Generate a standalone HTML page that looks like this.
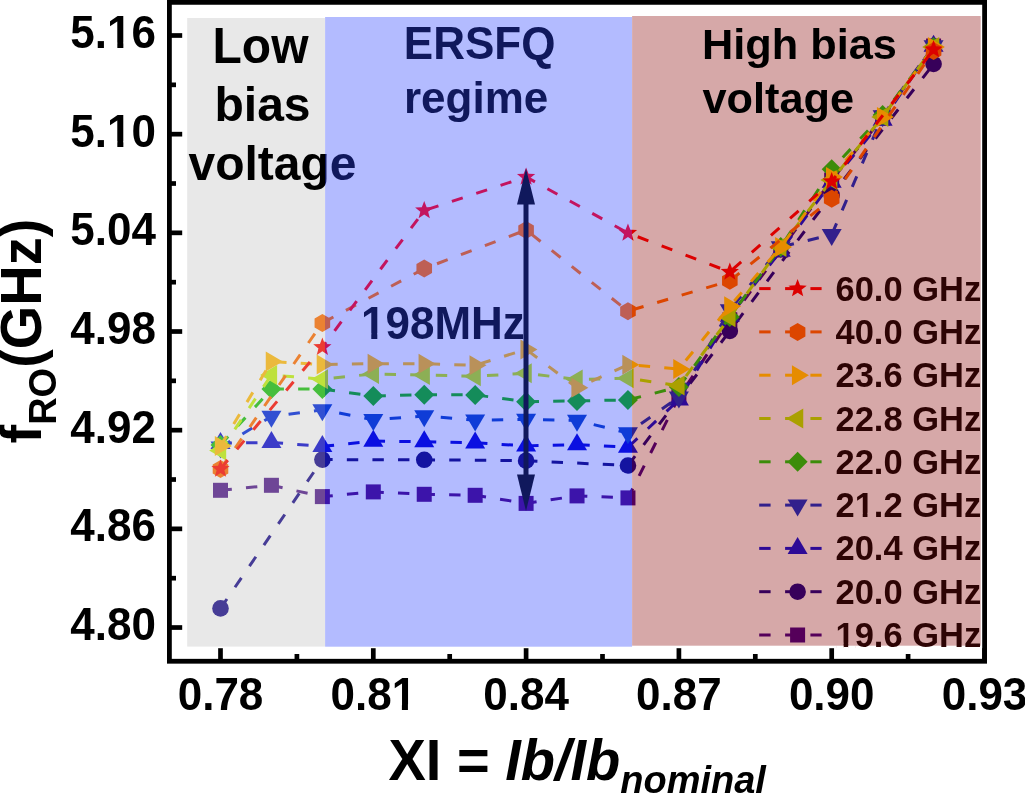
<!DOCTYPE html>
<html><head><meta charset="utf-8"><style>
html,body{margin:0;padding:0;background:#fff;overflow:hidden;}
svg{display:block;will-change:transform;}
text{font-family:"Liberation Sans",sans-serif;font-weight:bold;}
.tk{font-size:44px;}
.ttl{font-size:56px;}
.rl{font-size:44px;}
.rl2{font-size:48px;}
.lg{font-size:34.5px;}
</style></head><body>
<svg width="1025" height="796" viewBox="0 0 1025 796">
<defs><clipPath id="cg"><rect x="0" y="0" width="325.1" height="796"/></clipPath><clipPath id="cb"><rect x="325.1" y="0" width="307" height="796"/></clipPath><clipPath id="cp"><rect x="632.1" y="0" width="400" height="796"/></clipPath></defs>
<rect x="187.2" y="18" width="137.9" height="628.6" fill="#e8e8e8"/>
<rect x="325.1" y="17" width="307" height="629.7" fill="#b3bbff"/>
<rect x="632.1" y="16" width="348.6" height="629.7" fill="#d6a8a8"/>
<g clip-path="url(#cg)"><polyline points="220.50,490.30 271.43,485.30 322.37,496.60 373.30,491.90 424.23,494.30 475.16,495.30 526.10,503.40 577.03,495.90 627.96,497.90 678.90,397.00 729.83,320.00 780.76,250.00 831.70,180.00 882.63,118.00 933.56,46.00" fill="none" stroke="#6e4696" stroke-width="3" stroke-dasharray="11.4 14.2"/>
<rect x="213.00" y="482.80" width="15" height="15" fill="#6e4696"/>
<rect x="263.93" y="477.80" width="15" height="15" fill="#6e4696"/>
<rect x="314.87" y="489.10" width="15" height="15" fill="#6e4696"/>
<rect x="365.80" y="484.40" width="15" height="15" fill="#6e4696"/>
<rect x="416.73" y="486.80" width="15" height="15" fill="#6e4696"/>
<rect x="467.66" y="487.80" width="15" height="15" fill="#6e4696"/>
<rect x="518.60" y="495.90" width="15" height="15" fill="#6e4696"/>
<rect x="569.53" y="488.40" width="15" height="15" fill="#6e4696"/>
<rect x="620.46" y="490.40" width="15" height="15" fill="#6e4696"/>
<rect x="671.40" y="389.50" width="15" height="15" fill="#6e4696"/>
<rect x="722.33" y="312.50" width="15" height="15" fill="#6e4696"/>
<rect x="773.26" y="242.50" width="15" height="15" fill="#6e4696"/>
<rect x="824.20" y="172.50" width="15" height="15" fill="#6e4696"/>
<rect x="875.13" y="110.50" width="15" height="15" fill="#6e4696"/>
<rect x="926.06" y="38.50" width="15" height="15" fill="#6e4696"/>
<polyline points="220.50,608.40 322.37,459.60 424.23,459.80 526.10,460.70 627.96,465.50 729.83,331.00 831.70,195.00 933.56,64.00" fill="none" stroke="#463c96" stroke-width="3" stroke-dasharray="11.4 14.2"/>
<circle cx="220.50" cy="608.40" r="8.3" fill="#463c96"/>
<circle cx="322.37" cy="459.60" r="8.3" fill="#463c96"/>
<circle cx="424.23" cy="459.80" r="8.3" fill="#463c96"/>
<circle cx="526.10" cy="460.70" r="8.3" fill="#463c96"/>
<circle cx="627.96" cy="465.50" r="8.3" fill="#463c96"/>
<circle cx="729.83" cy="331.00" r="8.3" fill="#463c96"/>
<circle cx="831.70" cy="195.00" r="8.3" fill="#463c96"/>
<circle cx="933.56" cy="64.00" r="8.3" fill="#463c96"/>
<polyline points="220.50,443.30 271.43,442.40 322.37,446.40 373.30,441.10 424.23,441.70 475.16,442.80 526.10,445.90 577.03,444.70 627.96,447.20 678.90,399.80 729.83,316.00 780.76,251.00 831.70,182.00 882.63,120.00 933.56,46.00" fill="none" stroke="#3c3cc8" stroke-width="3" stroke-dasharray="11.4 14.2"/>
<polygon points="220.50,431.97 230.50,448.97 210.50,448.97" fill="#3c3cc8"/>
<polygon points="271.43,431.07 281.43,448.07 261.43,448.07" fill="#3c3cc8"/>
<polygon points="322.37,435.07 332.37,452.07 312.37,452.07" fill="#3c3cc8"/>
<polygon points="373.30,429.77 383.30,446.77 363.30,446.77" fill="#3c3cc8"/>
<polygon points="424.23,430.37 434.23,447.37 414.23,447.37" fill="#3c3cc8"/>
<polygon points="475.16,431.47 485.16,448.47 465.16,448.47" fill="#3c3cc8"/>
<polygon points="526.10,434.57 536.10,451.57 516.10,451.57" fill="#3c3cc8"/>
<polygon points="577.03,433.37 587.03,450.37 567.03,450.37" fill="#3c3cc8"/>
<polygon points="627.96,435.87 637.96,452.87 617.96,452.87" fill="#3c3cc8"/>
<polygon points="678.90,388.47 688.90,405.47 668.90,405.47" fill="#3c3cc8"/>
<polygon points="729.83,304.67 739.83,321.67 719.83,321.67" fill="#3c3cc8"/>
<polygon points="780.76,239.67 790.76,256.67 770.76,256.67" fill="#3c3cc8"/>
<polygon points="831.70,170.67 841.70,187.67 821.70,187.67" fill="#3c3cc8"/>
<polygon points="882.63,108.67 892.63,125.67 872.63,125.67" fill="#3c3cc8"/>
<polygon points="933.56,34.67 943.56,51.67 923.56,51.67" fill="#3c3cc8"/>
<polyline points="220.50,447.20 271.43,416.40 322.37,409.80 373.30,419.70 424.23,416.00 475.16,420.20 526.10,419.50 577.03,420.50 627.96,433.00 678.90,397.10 729.83,310.00 780.76,247.00 831.70,234.70 882.63,116.00 933.56,46.00" fill="none" stroke="#3250d2" stroke-width="3" stroke-dasharray="11.4 14.2"/>
<polygon points="210.50,441.53 230.50,441.53 220.50,458.53" fill="#3250d2"/>
<polygon points="261.43,410.73 281.43,410.73 271.43,427.73" fill="#3250d2"/>
<polygon points="312.37,404.13 332.37,404.13 322.37,421.13" fill="#3250d2"/>
<polygon points="363.30,414.03 383.30,414.03 373.30,431.03" fill="#3250d2"/>
<polygon points="414.23,410.33 434.23,410.33 424.23,427.33" fill="#3250d2"/>
<polygon points="465.16,414.53 485.16,414.53 475.16,431.53" fill="#3250d2"/>
<polygon points="516.10,413.83 536.10,413.83 526.10,430.83" fill="#3250d2"/>
<polygon points="567.03,414.83 587.03,414.83 577.03,431.83" fill="#3250d2"/>
<polygon points="617.96,427.33 637.96,427.33 627.96,444.33" fill="#3250d2"/>
<polygon points="668.90,391.43 688.90,391.43 678.90,408.43" fill="#3250d2"/>
<polygon points="719.83,304.33 739.83,304.33 729.83,321.33" fill="#3250d2"/>
<polygon points="770.76,241.33 790.76,241.33 780.76,258.33" fill="#3250d2"/>
<polygon points="821.70,229.03 841.70,229.03 831.70,246.03" fill="#3250d2"/>
<polygon points="872.63,110.33 892.63,110.33 882.63,127.33" fill="#3250d2"/>
<polygon points="923.56,40.33 943.56,40.33 933.56,57.33" fill="#3250d2"/>
<polyline points="220.50,445.00 271.43,389.00 322.37,389.00 373.30,396.00 424.23,394.70 475.16,394.90 526.10,401.70 577.03,400.90 627.96,399.90 678.90,387.00 729.83,317.00 780.76,247.00 831.70,169.20 882.63,115.00 933.56,47.00" fill="none" stroke="#46be3c" stroke-width="3" stroke-dasharray="11.4 14.2"/>
<polygon points="220.50,435.00 230.50,445.00 220.50,455.00 210.50,445.00" fill="#46be3c"/>
<polygon points="271.43,379.00 281.43,389.00 271.43,399.00 261.43,389.00" fill="#46be3c"/>
<polygon points="322.37,379.00 332.37,389.00 322.37,399.00 312.37,389.00" fill="#46be3c"/>
<polygon points="373.30,386.00 383.30,396.00 373.30,406.00 363.30,396.00" fill="#46be3c"/>
<polygon points="424.23,384.70 434.23,394.70 424.23,404.70 414.23,394.70" fill="#46be3c"/>
<polygon points="475.16,384.90 485.16,394.90 475.16,404.90 465.16,394.90" fill="#46be3c"/>
<polygon points="526.10,391.70 536.10,401.70 526.10,411.70 516.10,401.70" fill="#46be3c"/>
<polygon points="577.03,390.90 587.03,400.90 577.03,410.90 567.03,400.90" fill="#46be3c"/>
<polygon points="627.96,389.90 637.96,399.90 627.96,409.90 617.96,399.90" fill="#46be3c"/>
<polygon points="678.90,377.00 688.90,387.00 678.90,397.00 668.90,387.00" fill="#46be3c"/>
<polygon points="729.83,307.00 739.83,317.00 729.83,327.00 719.83,317.00" fill="#46be3c"/>
<polygon points="780.76,237.00 790.76,247.00 780.76,257.00 770.76,247.00" fill="#46be3c"/>
<polygon points="831.70,159.20 841.70,169.20 831.70,179.20 821.70,169.20" fill="#46be3c"/>
<polygon points="882.63,105.00 892.63,115.00 882.63,125.00 872.63,115.00" fill="#46be3c"/>
<polygon points="933.56,37.00 943.56,47.00 933.56,57.00 923.56,47.00" fill="#46be3c"/>
<polyline points="220.50,450.60 271.43,375.00 322.37,379.20 373.30,373.90 424.23,375.00 475.16,376.20 526.10,373.30 577.03,379.50 627.96,378.30 678.90,385.60 729.83,317.20 780.76,247.00 831.70,180.00 882.63,117.00 933.56,47.00" fill="none" stroke="#bee13c" stroke-width="3" stroke-dasharray="11.4 14.2"/>
<polygon points="226.17,440.60 209.17,450.60 226.17,460.60" fill="#bee13c"/>
<polygon points="277.10,365.00 260.10,375.00 277.10,385.00" fill="#bee13c"/>
<polygon points="328.03,369.20 311.03,379.20 328.03,389.20" fill="#bee13c"/>
<polygon points="378.97,363.90 361.97,373.90 378.97,383.90" fill="#bee13c"/>
<polygon points="429.90,365.00 412.90,375.00 429.90,385.00" fill="#bee13c"/>
<polygon points="480.83,366.20 463.83,376.20 480.83,386.20" fill="#bee13c"/>
<polygon points="531.76,363.30 514.76,373.30 531.76,383.30" fill="#bee13c"/>
<polygon points="582.70,369.50 565.70,379.50 582.70,389.50" fill="#bee13c"/>
<polygon points="633.63,368.30 616.63,378.30 633.63,388.30" fill="#bee13c"/>
<polygon points="684.56,375.60 667.56,385.60 684.56,395.60" fill="#bee13c"/>
<polygon points="735.50,307.20 718.50,317.20 735.50,327.20" fill="#bee13c"/>
<polygon points="786.43,237.00 769.43,247.00 786.43,257.00" fill="#bee13c"/>
<polygon points="837.36,170.00 820.36,180.00 837.36,190.00" fill="#bee13c"/>
<polygon points="888.30,107.00 871.30,117.00 888.30,127.00" fill="#bee13c"/>
<polygon points="939.23,37.00 922.23,47.00 939.23,57.00" fill="#bee13c"/>
<polyline points="220.50,446.00 271.43,361.50 322.37,364.50 373.30,363.70 424.23,363.70 475.16,365.30 526.10,349.40 577.03,387.80 627.96,364.70 678.90,369.00 729.83,306.20 780.76,247.00 831.70,177.00 882.63,117.00 933.56,47.00" fill="none" stroke="#ebb93c" stroke-width="3" stroke-dasharray="11.4 14.2"/>
<polygon points="214.83,436.00 231.83,446.00 214.83,456.00" fill="#ebb93c"/>
<polygon points="265.77,351.50 282.77,361.50 265.77,371.50" fill="#ebb93c"/>
<polygon points="316.70,354.50 333.70,364.50 316.70,374.50" fill="#ebb93c"/>
<polygon points="367.63,353.70 384.63,363.70 367.63,373.70" fill="#ebb93c"/>
<polygon points="418.57,353.70 435.57,363.70 418.57,373.70" fill="#ebb93c"/>
<polygon points="469.50,355.30 486.50,365.30 469.50,375.30" fill="#ebb93c"/>
<polygon points="520.43,339.40 537.43,349.40 520.43,359.40" fill="#ebb93c"/>
<polygon points="571.36,377.80 588.36,387.80 571.36,397.80" fill="#ebb93c"/>
<polygon points="622.30,354.70 639.30,364.70 622.30,374.70" fill="#ebb93c"/>
<polygon points="673.23,359.00 690.23,369.00 673.23,379.00" fill="#ebb93c"/>
<polygon points="724.16,296.20 741.16,306.20 724.16,316.20" fill="#ebb93c"/>
<polygon points="775.10,237.00 792.10,247.00 775.10,257.00" fill="#ebb93c"/>
<polygon points="826.03,167.00 843.03,177.00 826.03,187.00" fill="#ebb93c"/>
<polygon points="876.96,107.00 893.96,117.00 876.96,127.00" fill="#ebb93c"/>
<polygon points="927.90,37.00 944.90,47.00 927.90,57.00" fill="#ebb93c"/>
<polyline points="220.50,469.00 322.37,322.90 424.23,268.60 526.10,230.00 627.96,311.20 729.83,280.80 831.70,198.70 933.56,51.00" fill="none" stroke="#eb8232" stroke-width="3" stroke-dasharray="11.4 14.2"/>
<polygon points="220.50,460.00 228.29,464.50 228.29,473.50 220.50,478.00 212.71,473.50 212.71,464.50" fill="#eb8232"/>
<polygon points="322.37,313.90 330.16,318.40 330.16,327.40 322.37,331.90 314.57,327.40 314.57,318.40" fill="#eb8232"/>
<polygon points="424.23,259.60 432.03,264.10 432.03,273.10 424.23,277.60 416.44,273.10 416.44,264.10" fill="#eb8232"/>
<polygon points="526.10,221.00 533.89,225.50 533.89,234.50 526.10,239.00 518.30,234.50 518.30,225.50" fill="#eb8232"/>
<polygon points="627.96,302.20 635.76,306.70 635.76,315.70 627.96,320.20 620.17,315.70 620.17,306.70" fill="#eb8232"/>
<polygon points="729.83,271.80 737.62,276.30 737.62,285.30 729.83,289.80 722.04,285.30 722.04,276.30" fill="#eb8232"/>
<polygon points="831.70,189.70 839.49,194.20 839.49,203.20 831.70,207.70 823.90,203.20 823.90,194.20" fill="#eb8232"/>
<polygon points="933.56,42.00 941.36,46.50 941.36,55.50 933.56,60.00 925.77,55.50 925.77,46.50" fill="#eb8232"/>
<polyline points="220.50,469.00 322.37,347.20 424.23,210.50 526.10,177.00 627.96,233.00 729.83,272.00 831.70,181.50 933.56,49.60" fill="none" stroke="#eb3c32" stroke-width="3" stroke-dasharray="11.4 14.2"/>
<polygon points="220.50,459.40 222.91,465.68 229.63,466.03 224.40,470.27 226.14,476.77 220.50,473.10 214.86,476.77 216.60,470.27 211.37,466.03 218.09,465.68" fill="#eb3c32"/>
<polygon points="322.37,337.60 324.78,343.88 331.50,344.23 326.27,348.47 328.01,354.97 322.37,351.30 316.72,354.97 318.47,348.47 313.24,344.23 319.96,343.88" fill="#eb3c32"/>
<polygon points="424.23,200.90 426.64,207.18 433.36,207.53 428.13,211.77 429.87,218.27 424.23,214.60 418.59,218.27 420.33,211.77 415.10,207.53 421.82,207.18" fill="#eb3c32"/>
<polygon points="526.10,167.40 528.51,173.68 535.23,174.03 530.00,178.27 531.74,184.77 526.10,181.10 520.46,184.77 522.20,178.27 516.97,174.03 523.69,173.68" fill="#eb3c32"/>
<polygon points="627.96,223.40 630.37,229.68 637.09,230.03 631.86,234.27 633.61,240.77 627.96,237.10 622.32,240.77 624.06,234.27 618.83,230.03 625.55,229.68" fill="#eb3c32"/>
<polygon points="729.83,262.40 732.24,268.68 738.96,269.03 733.73,273.27 735.47,279.77 729.83,276.10 724.19,279.77 725.93,273.27 720.70,269.03 727.42,268.68" fill="#eb3c32"/>
<polygon points="831.70,171.90 834.11,178.18 840.83,178.53 835.60,182.77 837.34,189.27 831.70,185.60 826.05,189.27 827.80,182.77 822.57,178.53 829.29,178.18" fill="#eb3c32"/>
<polygon points="933.56,40.00 935.97,46.28 942.69,46.63 937.46,50.87 939.20,57.37 933.56,53.70 927.92,57.37 929.66,50.87 924.43,46.63 931.15,46.28" fill="#eb3c32"/></g>
<g clip-path="url(#cb)"><polyline points="220.50,490.30 271.43,485.30 322.37,496.60 373.30,491.90 424.23,494.30 475.16,495.30 526.10,503.40 577.03,495.90 627.96,497.90 678.90,397.00 729.83,320.00 780.76,250.00 831.70,180.00 882.63,118.00 933.56,46.00" fill="none" stroke="#3c14aa" stroke-width="3" stroke-dasharray="11.4 14.2"/>
<rect x="213.00" y="482.80" width="15" height="15" fill="#3c14aa"/>
<rect x="263.93" y="477.80" width="15" height="15" fill="#3c14aa"/>
<rect x="314.87" y="489.10" width="15" height="15" fill="#3c14aa"/>
<rect x="365.80" y="484.40" width="15" height="15" fill="#3c14aa"/>
<rect x="416.73" y="486.80" width="15" height="15" fill="#3c14aa"/>
<rect x="467.66" y="487.80" width="15" height="15" fill="#3c14aa"/>
<rect x="518.60" y="495.90" width="15" height="15" fill="#3c14aa"/>
<rect x="569.53" y="488.40" width="15" height="15" fill="#3c14aa"/>
<rect x="620.46" y="490.40" width="15" height="15" fill="#3c14aa"/>
<rect x="671.40" y="389.50" width="15" height="15" fill="#3c14aa"/>
<rect x="722.33" y="312.50" width="15" height="15" fill="#3c14aa"/>
<rect x="773.26" y="242.50" width="15" height="15" fill="#3c14aa"/>
<rect x="824.20" y="172.50" width="15" height="15" fill="#3c14aa"/>
<rect x="875.13" y="110.50" width="15" height="15" fill="#3c14aa"/>
<rect x="926.06" y="38.50" width="15" height="15" fill="#3c14aa"/>
<polyline points="220.50,608.40 322.37,459.60 424.23,459.80 526.10,460.70 627.96,465.50 729.83,331.00 831.70,195.00 933.56,64.00" fill="none" stroke="#1414a0" stroke-width="3" stroke-dasharray="11.4 14.2"/>
<circle cx="220.50" cy="608.40" r="8.3" fill="#1414a0"/>
<circle cx="322.37" cy="459.60" r="8.3" fill="#1414a0"/>
<circle cx="424.23" cy="459.80" r="8.3" fill="#1414a0"/>
<circle cx="526.10" cy="460.70" r="8.3" fill="#1414a0"/>
<circle cx="627.96" cy="465.50" r="8.3" fill="#1414a0"/>
<circle cx="729.83" cy="331.00" r="8.3" fill="#1414a0"/>
<circle cx="831.70" cy="195.00" r="8.3" fill="#1414a0"/>
<circle cx="933.56" cy="64.00" r="8.3" fill="#1414a0"/>
<polyline points="220.50,443.30 271.43,442.40 322.37,446.40 373.30,441.10 424.23,441.70 475.16,442.80 526.10,445.90 577.03,444.70 627.96,447.20 678.90,399.80 729.83,316.00 780.76,251.00 831.70,182.00 882.63,120.00 933.56,46.00" fill="none" stroke="#0a0fe1" stroke-width="3" stroke-dasharray="11.4 14.2"/>
<polygon points="220.50,431.97 230.50,448.97 210.50,448.97" fill="#0a0fe1"/>
<polygon points="271.43,431.07 281.43,448.07 261.43,448.07" fill="#0a0fe1"/>
<polygon points="322.37,435.07 332.37,452.07 312.37,452.07" fill="#0a0fe1"/>
<polygon points="373.30,429.77 383.30,446.77 363.30,446.77" fill="#0a0fe1"/>
<polygon points="424.23,430.37 434.23,447.37 414.23,447.37" fill="#0a0fe1"/>
<polygon points="475.16,431.47 485.16,448.47 465.16,448.47" fill="#0a0fe1"/>
<polygon points="526.10,434.57 536.10,451.57 516.10,451.57" fill="#0a0fe1"/>
<polygon points="577.03,433.37 587.03,450.37 567.03,450.37" fill="#0a0fe1"/>
<polygon points="627.96,435.87 637.96,452.87 617.96,452.87" fill="#0a0fe1"/>
<polygon points="678.90,388.47 688.90,405.47 668.90,405.47" fill="#0a0fe1"/>
<polygon points="729.83,304.67 739.83,321.67 719.83,321.67" fill="#0a0fe1"/>
<polygon points="780.76,239.67 790.76,256.67 770.76,256.67" fill="#0a0fe1"/>
<polygon points="831.70,170.67 841.70,187.67 821.70,187.67" fill="#0a0fe1"/>
<polygon points="882.63,108.67 892.63,125.67 872.63,125.67" fill="#0a0fe1"/>
<polygon points="933.56,34.67 943.56,51.67 923.56,51.67" fill="#0a0fe1"/>
<polyline points="220.50,447.20 271.43,416.40 322.37,409.80 373.30,419.70 424.23,416.00 475.16,420.20 526.10,419.50 577.03,420.50 627.96,433.00 678.90,397.10 729.83,310.00 780.76,247.00 831.70,234.70 882.63,116.00 933.56,46.00" fill="none" stroke="#0f3cd7" stroke-width="3" stroke-dasharray="11.4 14.2"/>
<polygon points="210.50,441.53 230.50,441.53 220.50,458.53" fill="#0f3cd7"/>
<polygon points="261.43,410.73 281.43,410.73 271.43,427.73" fill="#0f3cd7"/>
<polygon points="312.37,404.13 332.37,404.13 322.37,421.13" fill="#0f3cd7"/>
<polygon points="363.30,414.03 383.30,414.03 373.30,431.03" fill="#0f3cd7"/>
<polygon points="414.23,410.33 434.23,410.33 424.23,427.33" fill="#0f3cd7"/>
<polygon points="465.16,414.53 485.16,414.53 475.16,431.53" fill="#0f3cd7"/>
<polygon points="516.10,413.83 536.10,413.83 526.10,430.83" fill="#0f3cd7"/>
<polygon points="567.03,414.83 587.03,414.83 577.03,431.83" fill="#0f3cd7"/>
<polygon points="617.96,427.33 637.96,427.33 627.96,444.33" fill="#0f3cd7"/>
<polygon points="668.90,391.43 688.90,391.43 678.90,408.43" fill="#0f3cd7"/>
<polygon points="719.83,304.33 739.83,304.33 729.83,321.33" fill="#0f3cd7"/>
<polygon points="770.76,241.33 790.76,241.33 780.76,258.33" fill="#0f3cd7"/>
<polygon points="821.70,229.03 841.70,229.03 831.70,246.03" fill="#0f3cd7"/>
<polygon points="872.63,110.33 892.63,110.33 882.63,127.33" fill="#0f3cd7"/>
<polygon points="923.56,40.33 943.56,40.33 933.56,57.33" fill="#0f3cd7"/>
<polyline points="220.50,445.00 271.43,389.00 322.37,389.00 373.30,396.00 424.23,394.70 475.16,394.90 526.10,401.70 577.03,400.90 627.96,399.90 678.90,387.00 729.83,317.00 780.76,247.00 831.70,169.20 882.63,115.00 933.56,47.00" fill="none" stroke="#148c5a" stroke-width="3" stroke-dasharray="11.4 14.2"/>
<polygon points="220.50,435.00 230.50,445.00 220.50,455.00 210.50,445.00" fill="#148c5a"/>
<polygon points="271.43,379.00 281.43,389.00 271.43,399.00 261.43,389.00" fill="#148c5a"/>
<polygon points="322.37,379.00 332.37,389.00 322.37,399.00 312.37,389.00" fill="#148c5a"/>
<polygon points="373.30,386.00 383.30,396.00 373.30,406.00 363.30,396.00" fill="#148c5a"/>
<polygon points="424.23,384.70 434.23,394.70 424.23,404.70 414.23,394.70" fill="#148c5a"/>
<polygon points="475.16,384.90 485.16,394.90 475.16,404.90 465.16,394.90" fill="#148c5a"/>
<polygon points="526.10,391.70 536.10,401.70 526.10,411.70 516.10,401.70" fill="#148c5a"/>
<polygon points="577.03,390.90 587.03,400.90 577.03,410.90 567.03,400.90" fill="#148c5a"/>
<polygon points="627.96,389.90 637.96,399.90 627.96,409.90 617.96,399.90" fill="#148c5a"/>
<polygon points="678.90,377.00 688.90,387.00 678.90,397.00 668.90,387.00" fill="#148c5a"/>
<polygon points="729.83,307.00 739.83,317.00 729.83,327.00 719.83,317.00" fill="#148c5a"/>
<polygon points="780.76,237.00 790.76,247.00 780.76,257.00 770.76,247.00" fill="#148c5a"/>
<polygon points="831.70,159.20 841.70,169.20 831.70,179.20 821.70,169.20" fill="#148c5a"/>
<polygon points="882.63,105.00 892.63,115.00 882.63,125.00 872.63,115.00" fill="#148c5a"/>
<polygon points="933.56,37.00 943.56,47.00 933.56,57.00 923.56,47.00" fill="#148c5a"/>
<polyline points="220.50,450.60 271.43,375.00 322.37,379.20 373.30,373.90 424.23,375.00 475.16,376.20 526.10,373.30 577.03,379.50 627.96,378.30 678.90,385.60 729.83,317.20 780.76,247.00 831.70,180.00 882.63,117.00 933.56,47.00" fill="none" stroke="#8caf55" stroke-width="3" stroke-dasharray="11.4 14.2"/>
<polygon points="226.17,440.60 209.17,450.60 226.17,460.60" fill="#8caf55"/>
<polygon points="277.10,365.00 260.10,375.00 277.10,385.00" fill="#8caf55"/>
<polygon points="328.03,369.20 311.03,379.20 328.03,389.20" fill="#8caf55"/>
<polygon points="378.97,363.90 361.97,373.90 378.97,383.90" fill="#8caf55"/>
<polygon points="429.90,365.00 412.90,375.00 429.90,385.00" fill="#8caf55"/>
<polygon points="480.83,366.20 463.83,376.20 480.83,386.20" fill="#8caf55"/>
<polygon points="531.76,363.30 514.76,373.30 531.76,383.30" fill="#8caf55"/>
<polygon points="582.70,369.50 565.70,379.50 582.70,389.50" fill="#8caf55"/>
<polygon points="633.63,368.30 616.63,378.30 633.63,388.30" fill="#8caf55"/>
<polygon points="684.56,375.60 667.56,385.60 684.56,395.60" fill="#8caf55"/>
<polygon points="735.50,307.20 718.50,317.20 735.50,327.20" fill="#8caf55"/>
<polygon points="786.43,237.00 769.43,247.00 786.43,257.00" fill="#8caf55"/>
<polygon points="837.36,170.00 820.36,180.00 837.36,190.00" fill="#8caf55"/>
<polygon points="888.30,107.00 871.30,117.00 888.30,127.00" fill="#8caf55"/>
<polygon points="939.23,37.00 922.23,47.00 939.23,57.00" fill="#8caf55"/>
<polyline points="220.50,446.00 271.43,361.50 322.37,364.50 373.30,363.70 424.23,363.70 475.16,365.30 526.10,349.40 577.03,387.80 627.96,364.70 678.90,369.00 729.83,306.20 780.76,247.00 831.70,177.00 882.63,117.00 933.56,47.00" fill="none" stroke="#b9915a" stroke-width="3" stroke-dasharray="11.4 14.2"/>
<polygon points="214.83,436.00 231.83,446.00 214.83,456.00" fill="#b9915a"/>
<polygon points="265.77,351.50 282.77,361.50 265.77,371.50" fill="#b9915a"/>
<polygon points="316.70,354.50 333.70,364.50 316.70,374.50" fill="#b9915a"/>
<polygon points="367.63,353.70 384.63,363.70 367.63,373.70" fill="#b9915a"/>
<polygon points="418.57,353.70 435.57,363.70 418.57,373.70" fill="#b9915a"/>
<polygon points="469.50,355.30 486.50,365.30 469.50,375.30" fill="#b9915a"/>
<polygon points="520.43,339.40 537.43,349.40 520.43,359.40" fill="#b9915a"/>
<polygon points="571.36,377.80 588.36,387.80 571.36,397.80" fill="#b9915a"/>
<polygon points="622.30,354.70 639.30,364.70 622.30,374.70" fill="#b9915a"/>
<polygon points="673.23,359.00 690.23,369.00 673.23,379.00" fill="#b9915a"/>
<polygon points="724.16,296.20 741.16,306.20 724.16,316.20" fill="#b9915a"/>
<polygon points="775.10,237.00 792.10,247.00 775.10,257.00" fill="#b9915a"/>
<polygon points="826.03,167.00 843.03,177.00 826.03,187.00" fill="#b9915a"/>
<polygon points="876.96,107.00 893.96,117.00 876.96,127.00" fill="#b9915a"/>
<polygon points="927.90,37.00 944.90,47.00 927.90,57.00" fill="#b9915a"/>
<polyline points="220.50,469.00 322.37,322.90 424.23,268.60 526.10,230.00 627.96,311.20 729.83,280.80 831.70,198.70 933.56,51.00" fill="none" stroke="#be5f55" stroke-width="3" stroke-dasharray="11.4 14.2"/>
<polygon points="220.50,460.00 228.29,464.50 228.29,473.50 220.50,478.00 212.71,473.50 212.71,464.50" fill="#be5f55"/>
<polygon points="322.37,313.90 330.16,318.40 330.16,327.40 322.37,331.90 314.57,327.40 314.57,318.40" fill="#be5f55"/>
<polygon points="424.23,259.60 432.03,264.10 432.03,273.10 424.23,277.60 416.44,273.10 416.44,264.10" fill="#be5f55"/>
<polygon points="526.10,221.00 533.89,225.50 533.89,234.50 526.10,239.00 518.30,234.50 518.30,225.50" fill="#be5f55"/>
<polygon points="627.96,302.20 635.76,306.70 635.76,315.70 627.96,320.20 620.17,315.70 620.17,306.70" fill="#be5f55"/>
<polygon points="729.83,271.80 737.62,276.30 737.62,285.30 729.83,289.80 722.04,285.30 722.04,276.30" fill="#be5f55"/>
<polygon points="831.70,189.70 839.49,194.20 839.49,203.20 831.70,207.70 823.90,203.20 823.90,194.20" fill="#be5f55"/>
<polygon points="933.56,42.00 941.36,46.50 941.36,55.50 933.56,60.00 925.77,55.50 925.77,46.50" fill="#be5f55"/>
<polyline points="220.50,469.00 322.37,347.20 424.23,210.50 526.10,177.00 627.96,233.00 729.83,272.00 831.70,181.50 933.56,49.60" fill="none" stroke="#c3145f" stroke-width="3" stroke-dasharray="11.4 14.2"/>
<polygon points="220.50,459.40 222.91,465.68 229.63,466.03 224.40,470.27 226.14,476.77 220.50,473.10 214.86,476.77 216.60,470.27 211.37,466.03 218.09,465.68" fill="#c3145f"/>
<polygon points="322.37,337.60 324.78,343.88 331.50,344.23 326.27,348.47 328.01,354.97 322.37,351.30 316.72,354.97 318.47,348.47 313.24,344.23 319.96,343.88" fill="#c3145f"/>
<polygon points="424.23,200.90 426.64,207.18 433.36,207.53 428.13,211.77 429.87,218.27 424.23,214.60 418.59,218.27 420.33,211.77 415.10,207.53 421.82,207.18" fill="#c3145f"/>
<polygon points="526.10,167.40 528.51,173.68 535.23,174.03 530.00,178.27 531.74,184.77 526.10,181.10 520.46,184.77 522.20,178.27 516.97,174.03 523.69,173.68" fill="#c3145f"/>
<polygon points="627.96,223.40 630.37,229.68 637.09,230.03 631.86,234.27 633.61,240.77 627.96,237.10 622.32,240.77 624.06,234.27 618.83,230.03 625.55,229.68" fill="#c3145f"/>
<polygon points="729.83,262.40 732.24,268.68 738.96,269.03 733.73,273.27 735.47,279.77 729.83,276.10 724.19,279.77 725.93,273.27 720.70,269.03 727.42,268.68" fill="#c3145f"/>
<polygon points="831.70,171.90 834.11,178.18 840.83,178.53 835.60,182.77 837.34,189.27 831.70,185.60 826.05,189.27 827.80,182.77 822.57,178.53 829.29,178.18" fill="#c3145f"/>
<polygon points="933.56,40.00 935.97,46.28 942.69,46.63 937.46,50.87 939.20,57.37 933.56,53.70 927.92,57.37 929.66,50.87 924.43,46.63 931.15,46.28" fill="#c3145f"/></g>
<g clip-path="url(#cp)"><polyline points="220.50,490.30 271.43,485.30 322.37,496.60 373.30,491.90 424.23,494.30 475.16,495.30 526.10,503.40 577.03,495.90 627.96,497.90 678.90,397.00 729.83,320.00 780.76,250.00 831.70,180.00 882.63,118.00 933.56,46.00" fill="none" stroke="#55005a" stroke-width="3" stroke-dasharray="11.4 14.2"/>
<rect x="213.00" y="482.80" width="15" height="15" fill="#55005a"/>
<rect x="263.93" y="477.80" width="15" height="15" fill="#55005a"/>
<rect x="314.87" y="489.10" width="15" height="15" fill="#55005a"/>
<rect x="365.80" y="484.40" width="15" height="15" fill="#55005a"/>
<rect x="416.73" y="486.80" width="15" height="15" fill="#55005a"/>
<rect x="467.66" y="487.80" width="15" height="15" fill="#55005a"/>
<rect x="518.60" y="495.90" width="15" height="15" fill="#55005a"/>
<rect x="569.53" y="488.40" width="15" height="15" fill="#55005a"/>
<rect x="620.46" y="490.40" width="15" height="15" fill="#55005a"/>
<rect x="671.40" y="389.50" width="15" height="15" fill="#55005a"/>
<rect x="722.33" y="312.50" width="15" height="15" fill="#55005a"/>
<rect x="773.26" y="242.50" width="15" height="15" fill="#55005a"/>
<rect x="824.20" y="172.50" width="15" height="15" fill="#55005a"/>
<rect x="875.13" y="110.50" width="15" height="15" fill="#55005a"/>
<rect x="926.06" y="38.50" width="15" height="15" fill="#55005a"/>
<polyline points="220.50,608.40 322.37,459.60 424.23,459.80 526.10,460.70 627.96,465.50 729.83,331.00 831.70,195.00 933.56,64.00" fill="none" stroke="#37005a" stroke-width="3" stroke-dasharray="11.4 14.2"/>
<circle cx="220.50" cy="608.40" r="8.3" fill="#37005a"/>
<circle cx="322.37" cy="459.60" r="8.3" fill="#37005a"/>
<circle cx="424.23" cy="459.80" r="8.3" fill="#37005a"/>
<circle cx="526.10" cy="460.70" r="8.3" fill="#37005a"/>
<circle cx="627.96" cy="465.50" r="8.3" fill="#37005a"/>
<circle cx="729.83" cy="331.00" r="8.3" fill="#37005a"/>
<circle cx="831.70" cy="195.00" r="8.3" fill="#37005a"/>
<circle cx="933.56" cy="64.00" r="8.3" fill="#37005a"/>
<polyline points="220.50,443.30 271.43,442.40 322.37,446.40 373.30,441.10 424.23,441.70 475.16,442.80 526.10,445.90 577.03,444.70 627.96,447.20 678.90,399.80 729.83,316.00 780.76,251.00 831.70,182.00 882.63,120.00 933.56,46.00" fill="none" stroke="#2d0a96" stroke-width="3" stroke-dasharray="11.4 14.2"/>
<polygon points="220.50,431.97 230.50,448.97 210.50,448.97" fill="#2d0a96"/>
<polygon points="271.43,431.07 281.43,448.07 261.43,448.07" fill="#2d0a96"/>
<polygon points="322.37,435.07 332.37,452.07 312.37,452.07" fill="#2d0a96"/>
<polygon points="373.30,429.77 383.30,446.77 363.30,446.77" fill="#2d0a96"/>
<polygon points="424.23,430.37 434.23,447.37 414.23,447.37" fill="#2d0a96"/>
<polygon points="475.16,431.47 485.16,448.47 465.16,448.47" fill="#2d0a96"/>
<polygon points="526.10,434.57 536.10,451.57 516.10,451.57" fill="#2d0a96"/>
<polygon points="577.03,433.37 587.03,450.37 567.03,450.37" fill="#2d0a96"/>
<polygon points="627.96,435.87 637.96,452.87 617.96,452.87" fill="#2d0a96"/>
<polygon points="678.90,388.47 688.90,405.47 668.90,405.47" fill="#2d0a96"/>
<polygon points="729.83,304.67 739.83,321.67 719.83,321.67" fill="#2d0a96"/>
<polygon points="780.76,239.67 790.76,256.67 770.76,256.67" fill="#2d0a96"/>
<polygon points="831.70,170.67 841.70,187.67 821.70,187.67" fill="#2d0a96"/>
<polygon points="882.63,108.67 892.63,125.67 872.63,125.67" fill="#2d0a96"/>
<polygon points="933.56,34.67 943.56,51.67 923.56,51.67" fill="#2d0a96"/>
<polyline points="220.50,447.20 271.43,416.40 322.37,409.80 373.30,419.70 424.23,416.00 475.16,420.20 526.10,419.50 577.03,420.50 627.96,433.00 678.90,397.10 729.83,310.00 780.76,247.00 831.70,234.70 882.63,116.00 933.56,46.00" fill="none" stroke="#32208c" stroke-width="3" stroke-dasharray="11.4 14.2"/>
<polygon points="210.50,441.53 230.50,441.53 220.50,458.53" fill="#32208c"/>
<polygon points="261.43,410.73 281.43,410.73 271.43,427.73" fill="#32208c"/>
<polygon points="312.37,404.13 332.37,404.13 322.37,421.13" fill="#32208c"/>
<polygon points="363.30,414.03 383.30,414.03 373.30,431.03" fill="#32208c"/>
<polygon points="414.23,410.33 434.23,410.33 424.23,427.33" fill="#32208c"/>
<polygon points="465.16,414.53 485.16,414.53 475.16,431.53" fill="#32208c"/>
<polygon points="516.10,413.83 536.10,413.83 526.10,430.83" fill="#32208c"/>
<polygon points="567.03,414.83 587.03,414.83 577.03,431.83" fill="#32208c"/>
<polygon points="617.96,427.33 637.96,427.33 627.96,444.33" fill="#32208c"/>
<polygon points="668.90,391.43 688.90,391.43 678.90,408.43" fill="#32208c"/>
<polygon points="719.83,304.33 739.83,304.33 729.83,321.33" fill="#32208c"/>
<polygon points="770.76,241.33 790.76,241.33 780.76,258.33" fill="#32208c"/>
<polygon points="821.70,229.03 841.70,229.03 831.70,246.03" fill="#32208c"/>
<polygon points="872.63,110.33 892.63,110.33 882.63,127.33" fill="#32208c"/>
<polygon points="923.56,40.33 943.56,40.33 933.56,57.33" fill="#32208c"/>
<polyline points="220.50,445.00 271.43,389.00 322.37,389.00 373.30,396.00 424.23,394.70 475.16,394.90 526.10,401.70 577.03,400.90 627.96,399.90 678.90,387.00 729.83,317.00 780.76,247.00 831.70,169.20 882.63,115.00 933.56,47.00" fill="none" stroke="#3c8c0a" stroke-width="3" stroke-dasharray="11.4 14.2"/>
<polygon points="220.50,435.00 230.50,445.00 220.50,455.00 210.50,445.00" fill="#3c8c0a"/>
<polygon points="271.43,379.00 281.43,389.00 271.43,399.00 261.43,389.00" fill="#3c8c0a"/>
<polygon points="322.37,379.00 332.37,389.00 322.37,399.00 312.37,389.00" fill="#3c8c0a"/>
<polygon points="373.30,386.00 383.30,396.00 373.30,406.00 363.30,396.00" fill="#3c8c0a"/>
<polygon points="424.23,384.70 434.23,394.70 424.23,404.70 414.23,394.70" fill="#3c8c0a"/>
<polygon points="475.16,384.90 485.16,394.90 475.16,404.90 465.16,394.90" fill="#3c8c0a"/>
<polygon points="526.10,391.70 536.10,401.70 526.10,411.70 516.10,401.70" fill="#3c8c0a"/>
<polygon points="577.03,390.90 587.03,400.90 577.03,410.90 567.03,400.90" fill="#3c8c0a"/>
<polygon points="627.96,389.90 637.96,399.90 627.96,409.90 617.96,399.90" fill="#3c8c0a"/>
<polygon points="678.90,377.00 688.90,387.00 678.90,397.00 668.90,387.00" fill="#3c8c0a"/>
<polygon points="729.83,307.00 739.83,317.00 729.83,327.00 719.83,317.00" fill="#3c8c0a"/>
<polygon points="780.76,237.00 790.76,247.00 780.76,257.00 770.76,247.00" fill="#3c8c0a"/>
<polygon points="831.70,159.20 841.70,169.20 831.70,179.20 821.70,169.20" fill="#3c8c0a"/>
<polygon points="882.63,105.00 892.63,115.00 882.63,125.00 872.63,115.00" fill="#3c8c0a"/>
<polygon points="933.56,37.00 943.56,47.00 933.56,57.00 923.56,47.00" fill="#3c8c0a"/>
<polyline points="220.50,450.60 271.43,375.00 322.37,379.20 373.30,373.90 424.23,375.00 475.16,376.20 526.10,373.30 577.03,379.50 627.96,378.30 678.90,385.60 729.83,317.20 780.76,247.00 831.70,180.00 882.63,117.00 933.56,47.00" fill="none" stroke="#aaa000" stroke-width="3" stroke-dasharray="11.4 14.2"/>
<polygon points="226.17,440.60 209.17,450.60 226.17,460.60" fill="#aaa000"/>
<polygon points="277.10,365.00 260.10,375.00 277.10,385.00" fill="#aaa000"/>
<polygon points="328.03,369.20 311.03,379.20 328.03,389.20" fill="#aaa000"/>
<polygon points="378.97,363.90 361.97,373.90 378.97,383.90" fill="#aaa000"/>
<polygon points="429.90,365.00 412.90,375.00 429.90,385.00" fill="#aaa000"/>
<polygon points="480.83,366.20 463.83,376.20 480.83,386.20" fill="#aaa000"/>
<polygon points="531.76,363.30 514.76,373.30 531.76,383.30" fill="#aaa000"/>
<polygon points="582.70,369.50 565.70,379.50 582.70,389.50" fill="#aaa000"/>
<polygon points="633.63,368.30 616.63,378.30 633.63,388.30" fill="#aaa000"/>
<polygon points="684.56,375.60 667.56,385.60 684.56,395.60" fill="#aaa000"/>
<polygon points="735.50,307.20 718.50,317.20 735.50,327.20" fill="#aaa000"/>
<polygon points="786.43,237.00 769.43,247.00 786.43,257.00" fill="#aaa000"/>
<polygon points="837.36,170.00 820.36,180.00 837.36,190.00" fill="#aaa000"/>
<polygon points="888.30,107.00 871.30,117.00 888.30,127.00" fill="#aaa000"/>
<polygon points="939.23,37.00 922.23,47.00 939.23,57.00" fill="#aaa000"/>
<polyline points="220.50,446.00 271.43,361.50 322.37,364.50 373.30,363.70 424.23,363.70 475.16,365.30 526.10,349.40 577.03,387.80 627.96,364.70 678.90,369.00 729.83,306.20 780.76,247.00 831.70,177.00 882.63,117.00 933.56,47.00" fill="none" stroke="#e68c00" stroke-width="3" stroke-dasharray="11.4 14.2"/>
<polygon points="214.83,436.00 231.83,446.00 214.83,456.00" fill="#e68c00"/>
<polygon points="265.77,351.50 282.77,361.50 265.77,371.50" fill="#e68c00"/>
<polygon points="316.70,354.50 333.70,364.50 316.70,374.50" fill="#e68c00"/>
<polygon points="367.63,353.70 384.63,363.70 367.63,373.70" fill="#e68c00"/>
<polygon points="418.57,353.70 435.57,363.70 418.57,373.70" fill="#e68c00"/>
<polygon points="469.50,355.30 486.50,365.30 469.50,375.30" fill="#e68c00"/>
<polygon points="520.43,339.40 537.43,349.40 520.43,359.40" fill="#e68c00"/>
<polygon points="571.36,377.80 588.36,387.80 571.36,397.80" fill="#e68c00"/>
<polygon points="622.30,354.70 639.30,364.70 622.30,374.70" fill="#e68c00"/>
<polygon points="673.23,359.00 690.23,369.00 673.23,379.00" fill="#e68c00"/>
<polygon points="724.16,296.20 741.16,306.20 724.16,316.20" fill="#e68c00"/>
<polygon points="775.10,237.00 792.10,247.00 775.10,257.00" fill="#e68c00"/>
<polygon points="826.03,167.00 843.03,177.00 826.03,187.00" fill="#e68c00"/>
<polygon points="876.96,107.00 893.96,117.00 876.96,127.00" fill="#e68c00"/>
<polygon points="927.90,37.00 944.90,47.00 927.90,57.00" fill="#e68c00"/>
<polyline points="220.50,469.00 322.37,322.90 424.23,268.60 526.10,230.00 627.96,311.20 729.83,280.80 831.70,198.70 933.56,51.00" fill="none" stroke="#dc4600" stroke-width="3" stroke-dasharray="11.4 14.2"/>
<polygon points="220.50,460.00 228.29,464.50 228.29,473.50 220.50,478.00 212.71,473.50 212.71,464.50" fill="#dc4600"/>
<polygon points="322.37,313.90 330.16,318.40 330.16,327.40 322.37,331.90 314.57,327.40 314.57,318.40" fill="#dc4600"/>
<polygon points="424.23,259.60 432.03,264.10 432.03,273.10 424.23,277.60 416.44,273.10 416.44,264.10" fill="#dc4600"/>
<polygon points="526.10,221.00 533.89,225.50 533.89,234.50 526.10,239.00 518.30,234.50 518.30,225.50" fill="#dc4600"/>
<polygon points="627.96,302.20 635.76,306.70 635.76,315.70 627.96,320.20 620.17,315.70 620.17,306.70" fill="#dc4600"/>
<polygon points="729.83,271.80 737.62,276.30 737.62,285.30 729.83,289.80 722.04,285.30 722.04,276.30" fill="#dc4600"/>
<polygon points="831.70,189.70 839.49,194.20 839.49,203.20 831.70,207.70 823.90,203.20 823.90,194.20" fill="#dc4600"/>
<polygon points="933.56,42.00 941.36,46.50 941.36,55.50 933.56,60.00 925.77,55.50 925.77,46.50" fill="#dc4600"/>
<polyline points="220.50,469.00 322.37,347.20 424.23,210.50 526.10,177.00 627.96,233.00 729.83,272.00 831.70,181.50 933.56,49.60" fill="none" stroke="#dc0000" stroke-width="3" stroke-dasharray="11.4 14.2"/>
<polygon points="220.50,459.40 222.91,465.68 229.63,466.03 224.40,470.27 226.14,476.77 220.50,473.10 214.86,476.77 216.60,470.27 211.37,466.03 218.09,465.68" fill="#dc0000"/>
<polygon points="322.37,337.60 324.78,343.88 331.50,344.23 326.27,348.47 328.01,354.97 322.37,351.30 316.72,354.97 318.47,348.47 313.24,344.23 319.96,343.88" fill="#dc0000"/>
<polygon points="424.23,200.90 426.64,207.18 433.36,207.53 428.13,211.77 429.87,218.27 424.23,214.60 418.59,218.27 420.33,211.77 415.10,207.53 421.82,207.18" fill="#dc0000"/>
<polygon points="526.10,167.40 528.51,173.68 535.23,174.03 530.00,178.27 531.74,184.77 526.10,181.10 520.46,184.77 522.20,178.27 516.97,174.03 523.69,173.68" fill="#dc0000"/>
<polygon points="627.96,223.40 630.37,229.68 637.09,230.03 631.86,234.27 633.61,240.77 627.96,237.10 622.32,240.77 624.06,234.27 618.83,230.03 625.55,229.68" fill="#dc0000"/>
<polygon points="729.83,262.40 732.24,268.68 738.96,269.03 733.73,273.27 735.47,279.77 729.83,276.10 724.19,279.77 725.93,273.27 720.70,269.03 727.42,268.68" fill="#dc0000"/>
<polygon points="831.70,171.90 834.11,178.18 840.83,178.53 835.60,182.77 837.34,189.27 831.70,185.60 826.05,189.27 827.80,182.77 822.57,178.53 829.29,178.18" fill="#dc0000"/>
<polygon points="933.56,40.00 935.97,46.28 942.69,46.63 937.46,50.87 939.20,57.37 933.56,53.70 927.92,57.37 929.66,50.87 924.43,46.63 931.15,46.28" fill="#dc0000"/></g>
<line x1="526" y1="200" x2="526" y2="480" stroke="#10185c" stroke-width="5"/>
<polygon points="526,168.5 535,204.4 517,204.4" fill="#10185c"/>
<polygon points="526,511 535,474.5 517,474.5" fill="#10185c"/>
<text transform="translate(361,338.6) scale(1,1.035)" class="rl" fill="#10185c">198MHz</text><g transform="translate(361,338.6) scale(1,1.035)"><rect x="1.27" y="-5.09" width="9.00" height="6.09" fill="#b3bbff"/><rect x="16.31" y="-5.09" width="8.44" height="6.09" fill="#b3bbff"/></g>
<line x1="759.2" y1="288.60" x2="770.6" y2="288.60" stroke="#dc0000" stroke-width="3"/>
<line x1="785.1" y1="288.60" x2="796.5" y2="288.60" stroke="#dc0000" stroke-width="3"/>
<line x1="810.4" y1="288.60" x2="821.6" y2="288.60" stroke="#dc0000" stroke-width="3"/>
<polygon points="797.60,279.00 800.01,285.28 806.73,285.63 801.50,289.87 803.24,296.37 797.60,292.70 791.96,296.37 793.70,289.87 788.47,285.63 795.19,285.28" fill="#dc0000"/>
<text transform="translate(835.5,300.60) scale(1,1.035)" class="lg" fill="#2d0404">60.0 GHz</text>
<line x1="759.2" y1="331.90" x2="770.6" y2="331.90" stroke="#dc4600" stroke-width="3"/>
<line x1="785.1" y1="331.90" x2="796.5" y2="331.90" stroke="#dc4600" stroke-width="3"/>
<line x1="810.4" y1="331.90" x2="821.6" y2="331.90" stroke="#dc4600" stroke-width="3"/>
<polygon points="797.60,322.90 805.39,327.40 805.39,336.40 797.60,340.90 789.81,336.40 789.81,327.40" fill="#dc4600"/>
<text transform="translate(835.5,343.90) scale(1,1.035)" class="lg" fill="#2d0404">40.0 GHz</text>
<line x1="759.2" y1="375.20" x2="770.6" y2="375.20" stroke="#e68c00" stroke-width="3"/>
<line x1="785.1" y1="375.20" x2="796.5" y2="375.20" stroke="#e68c00" stroke-width="3"/>
<line x1="810.4" y1="375.20" x2="821.6" y2="375.20" stroke="#e68c00" stroke-width="3"/>
<polygon points="791.93,365.20 808.93,375.20 791.93,385.20" fill="#e68c00"/>
<text transform="translate(835.5,387.20) scale(1,1.035)" class="lg" fill="#2d0404">23.6 GHz</text>
<line x1="759.2" y1="418.50" x2="770.6" y2="418.50" stroke="#aaa000" stroke-width="3"/>
<line x1="785.1" y1="418.50" x2="796.5" y2="418.50" stroke="#aaa000" stroke-width="3"/>
<line x1="810.4" y1="418.50" x2="821.6" y2="418.50" stroke="#aaa000" stroke-width="3"/>
<polygon points="803.27,408.50 786.27,418.50 803.27,428.50" fill="#aaa000"/>
<text transform="translate(835.5,430.50) scale(1,1.035)" class="lg" fill="#2d0404">22.8 GHz</text>
<line x1="759.2" y1="461.80" x2="770.6" y2="461.80" stroke="#3c8c0a" stroke-width="3"/>
<line x1="785.1" y1="461.80" x2="796.5" y2="461.80" stroke="#3c8c0a" stroke-width="3"/>
<line x1="810.4" y1="461.80" x2="821.6" y2="461.80" stroke="#3c8c0a" stroke-width="3"/>
<polygon points="797.60,451.80 807.60,461.80 797.60,471.80 787.60,461.80" fill="#3c8c0a"/>
<text transform="translate(835.5,473.80) scale(1,1.035)" class="lg" fill="#2d0404">22.0 GHz</text>
<line x1="759.2" y1="505.10" x2="770.6" y2="505.10" stroke="#32208c" stroke-width="3"/>
<line x1="785.1" y1="505.10" x2="796.5" y2="505.10" stroke="#32208c" stroke-width="3"/>
<line x1="810.4" y1="505.10" x2="821.6" y2="505.10" stroke="#32208c" stroke-width="3"/>
<polygon points="787.60,499.43 807.60,499.43 797.60,516.43" fill="#32208c"/>
<text transform="translate(835.5,517.10) scale(1,1.035)" class="lg" fill="#2d0404">21.2 GHz</text><g transform="translate(835.5,517.10) scale(1,1.035)"><rect x="19.85" y="-4.12" width="7.38" height="5.12" fill="#d6a8a8"/><rect x="31.96" y="-4.12" width="6.94" height="5.12" fill="#d6a8a8"/></g>
<line x1="759.2" y1="548.40" x2="770.6" y2="548.40" stroke="#2d0a96" stroke-width="3"/>
<line x1="785.1" y1="548.40" x2="796.5" y2="548.40" stroke="#2d0a96" stroke-width="3"/>
<line x1="810.4" y1="548.40" x2="821.6" y2="548.40" stroke="#2d0a96" stroke-width="3"/>
<polygon points="797.60,537.07 807.60,554.07 787.60,554.07" fill="#2d0a96"/>
<text transform="translate(835.5,560.40) scale(1,1.035)" class="lg" fill="#2d0404">20.4 GHz</text>
<line x1="759.2" y1="591.70" x2="770.6" y2="591.70" stroke="#37005a" stroke-width="3"/>
<line x1="785.1" y1="591.70" x2="796.5" y2="591.70" stroke="#37005a" stroke-width="3"/>
<line x1="810.4" y1="591.70" x2="821.6" y2="591.70" stroke="#37005a" stroke-width="3"/>
<circle cx="797.60" cy="591.70" r="8.3" fill="#37005a"/>
<text transform="translate(835.5,603.70) scale(1,1.035)" class="lg" fill="#2d0404">20.0 GHz</text>
<line x1="759.2" y1="635.00" x2="770.6" y2="635.00" stroke="#55005a" stroke-width="3"/>
<line x1="785.1" y1="635.00" x2="796.5" y2="635.00" stroke="#55005a" stroke-width="3"/>
<line x1="810.4" y1="635.00" x2="821.6" y2="635.00" stroke="#55005a" stroke-width="3"/>
<rect x="790.10" y="627.50" width="15" height="15" fill="#55005a"/>
<text transform="translate(835.5,647.00) scale(1,1.035)" class="lg" fill="#2d0404">19.6 GHz</text><g transform="translate(835.5,647.00) scale(1,1.035)"><rect x="0.67" y="-4.12" width="7.38" height="5.12" fill="#d6a8a8"/><rect x="0.67" y="-1.26" width="7.38" height="3" fill="#ffffff"/><rect x="12.79" y="-4.12" width="6.94" height="5.12" fill="#d6a8a8"/><rect x="12.79" y="-1.26" width="6.94" height="3" fill="#ffffff"/></g>
<rect x="169.4" y="2.35" width="815.2" height="658.9" fill="none" stroke="#000" stroke-width="4.8"/>
<line x1="171" y1="35.50" x2="182.2" y2="35.50" stroke="#000" stroke-width="4.7"/>
<text transform="translate(156,48.00) scale(1,1.035)" text-anchor="end" class="tk">5.16</text><g transform="translate(156,48.00) scale(1,1.035)"><rect x="-47.68" y="-5.09" width="9.00" height="6.09" fill="#ffffff"/><rect x="-32.64" y="-5.09" width="8.44" height="6.09" fill="#ffffff"/></g>
<line x1="171" y1="84.84" x2="176" y2="84.84" stroke="#000" stroke-width="4.7"/>
<line x1="171" y1="134.17" x2="182.2" y2="134.17" stroke="#000" stroke-width="4.7"/>
<text transform="translate(156,146.67) scale(1,1.035)" text-anchor="end" class="tk">5.10</text><g transform="translate(156,146.67) scale(1,1.035)"><rect x="-47.68" y="-5.09" width="9.00" height="6.09" fill="#ffffff"/><rect x="-32.64" y="-5.09" width="8.44" height="6.09" fill="#ffffff"/></g>
<line x1="171" y1="183.51" x2="176" y2="183.51" stroke="#000" stroke-width="4.7"/>
<line x1="171" y1="232.84" x2="182.2" y2="232.84" stroke="#000" stroke-width="4.7"/>
<text transform="translate(156,245.34) scale(1,1.035)" text-anchor="end" class="tk">5.04</text>
<line x1="171" y1="282.18" x2="176" y2="282.18" stroke="#000" stroke-width="4.7"/>
<line x1="171" y1="331.51" x2="182.2" y2="331.51" stroke="#000" stroke-width="4.7"/>
<text transform="translate(156,344.01) scale(1,1.035)" text-anchor="end" class="tk">4.98</text>
<line x1="171" y1="380.84" x2="176" y2="380.84" stroke="#000" stroke-width="4.7"/>
<line x1="171" y1="430.18" x2="182.2" y2="430.18" stroke="#000" stroke-width="4.7"/>
<text transform="translate(156,442.68) scale(1,1.035)" text-anchor="end" class="tk">4.92</text>
<line x1="171" y1="479.52" x2="176" y2="479.52" stroke="#000" stroke-width="4.7"/>
<line x1="171" y1="528.85" x2="182.2" y2="528.85" stroke="#000" stroke-width="4.7"/>
<text transform="translate(156,541.35) scale(1,1.035)" text-anchor="end" class="tk">4.86</text>
<line x1="171" y1="578.19" x2="176" y2="578.19" stroke="#000" stroke-width="4.7"/>
<line x1="171" y1="627.52" x2="182.2" y2="627.52" stroke="#000" stroke-width="4.7"/>
<text transform="translate(156,640.02) scale(1,1.035)" text-anchor="end" class="tk">4.80</text>
<line x1="220.50" y1="659" x2="220.50" y2="648.2" stroke="#000" stroke-width="4.7"/>
<text transform="translate(220.50,709.5) scale(1,1.035)" text-anchor="middle" class="tk">0.78</text>
<line x1="296.90" y1="659" x2="296.90" y2="654" stroke="#000" stroke-width="4.7"/>
<line x1="373.30" y1="659" x2="373.30" y2="648.2" stroke="#000" stroke-width="4.7"/>
<text transform="translate(373.30,709.5) scale(1,1.035)" text-anchor="middle" class="tk">0.81</text><g transform="translate(373.30,709.5) scale(1,1.035)"><rect x="19.60" y="-5.09" width="9.00" height="6.09" fill="#ffffff"/><rect x="34.63" y="-5.09" width="8.44" height="6.09" fill="#ffffff"/></g>
<line x1="449.70" y1="659" x2="449.70" y2="654" stroke="#000" stroke-width="4.7"/>
<line x1="526.10" y1="659" x2="526.10" y2="648.2" stroke="#000" stroke-width="4.7"/>
<text transform="translate(526.10,709.5) scale(1,1.035)" text-anchor="middle" class="tk">0.84</text>
<line x1="602.50" y1="659" x2="602.50" y2="654" stroke="#000" stroke-width="4.7"/>
<line x1="678.90" y1="659" x2="678.90" y2="648.2" stroke="#000" stroke-width="4.7"/>
<text transform="translate(678.90,709.5) scale(1,1.035)" text-anchor="middle" class="tk">0.87</text>
<line x1="755.30" y1="659" x2="755.30" y2="654" stroke="#000" stroke-width="4.7"/>
<line x1="831.70" y1="659" x2="831.70" y2="648.2" stroke="#000" stroke-width="4.7"/>
<text transform="translate(831.70,709.5) scale(1,1.035)" text-anchor="middle" class="tk">0.90</text>
<line x1="908.10" y1="659" x2="908.10" y2="654" stroke="#000" stroke-width="4.7"/>
<line x1="984.50" y1="659" x2="984.50" y2="648.2" stroke="#000" stroke-width="4.7"/>
<text transform="translate(984.50,709.5) scale(1,1.035)" text-anchor="middle" class="tk">0.93</text>
<text transform="translate(388.5,780.4) scale(1,1.03)" class="ttl">XI = <tspan font-style="italic">Ib/Ib</tspan><tspan font-style="italic" font-size="38" dy="12.6">nominal</tspan></text>
<text transform="translate(40.7,443.5) rotate(-90) scale(1,1.03)" class="ttl">f<tspan font-size="38" dy="15">RO</tspan><tspan dy="-15">(GHz)</tspan></text>
<g clip-path="url(#cg)"><text transform="translate(260.5,62.7) scale(1,1.04)" text-anchor="middle" class="rl2">Low</text><text x="262.5" y="121.4" text-anchor="middle" class="rl2">bias</text><text x="272.5" y="180" text-anchor="middle" class="rl2">voltage</text></g>
<g clip-path="url(#cb)" fill="#10185c"><text x="272.5" y="180" text-anchor="middle" class="rl2">voltage</text><text transform="translate(479.6,58.9) scale(1,1.04)" text-anchor="middle" class="rl">ERSFQ</text><text x="404" y="113" class="rl">regime</text></g>
<text x="702" y="59" class="rl" style="font-size:43.3px">High bias</text>
<text x="702.5" y="113.1" class="rl" style="font-size:43.3px">voltage</text>
</svg></body></html>
